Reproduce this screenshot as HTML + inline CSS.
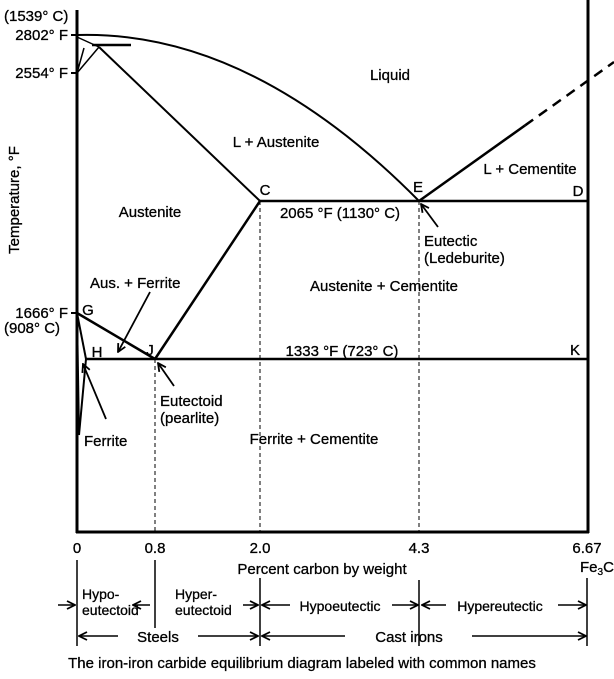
<!DOCTYPE html>
<html><head><meta charset="utf-8"><style>
html,body{margin:0;padding:0;background:#fff}
svg{display:block;font-family:"Liberation Sans",Arial,sans-serif}
</style></head><body>
<svg id="chart" width="614" height="679" viewBox="0 0 614 679">
<defs>
<marker id="ah" markerWidth="10" markerHeight="10" refX="9" refY="5" orient="auto" markerUnits="userSpaceOnUse">
<path d="M1,1 L9,5 L1,9" fill="none" stroke="#000" stroke-width="1.8"/></marker>
</defs>
<g id="marks" stroke="#000" fill="none"></g>
<g id="labels" font-size="15" fill="#000" stroke="#000" stroke-width="0.3"></g>
</svg>
<script>
// Carbon (%) breakpoints and temperature (°F) breakpoints (schematic axes)
const carbonTicks = [0, 0.8, 2.0, 4.3, 6.67];
const carbonTickLabels = ["0", "0.8", "2.0", "4.3", "6.67"];
const tempTicks = [2802, 2554, 1666];
const tempTickLabels = ["2802° F", "2554° F", "1666° F"];
const eutecticTemp = 2065;
const eutectoidTemp = 1333;
const pointC = [2.0, 2065];
const pointE = [4.3, 2065];
const pointJ = [0.8, 1333];
const pointG = [0, 1666];

// axis functions (piecewise, schematic diagram)
const xs = [77, 155, 260, 419, 587];
function X(c){for(let i=0;i<carbonTicks.length-1;i++){if(c<=carbonTicks[i+1]||i===carbonTicks.length-2){const t=(c-carbonTicks[i])/(carbonTicks[i+1]-carbonTicks[i]);return xs[i]+t*(xs[i+1]-xs[i]);}}}
const tBreak=[3000,2802,2554,2065,1666,1333,1000];
const yBreak=[0,35,73,201,313,359,532];
function Y(T){for(let i=0;i<tBreak.length-1;i++){if(T>=tBreak[i+1]||i===tBreak.length-2){const t=(tBreak[i]-T)/(tBreak[i]-tBreak[i+1]);return yBreak[i]+t*(yBreak[i+1]-yBreak[i]);}}}

const NS="http://www.w3.org/2000/svg";
const marks=document.getElementById('marks'), labels=document.getElementById('labels');
function el(tag,attrs,parent){const e=document.createElementNS(NS,tag);for(const k in attrs)e.setAttribute(k,attrs[k]);parent.appendChild(e);return e;}
function line(x1,y1,x2,y2,w,name,extra){const e=el('line',Object.assign({x1,y1,x2,y2,'stroke-width':w},extra||{}),marks);

return e;}
function path(d,w,name){const e=el('path',{d,'stroke-width':w},marks);

return e;}
function text(x,y,s,name,anchor,size){const e=el('text',{x,y,'text-anchor':anchor||'start','font-size':size||15},labels);e.textContent=s;

return e;}

// axes
line(77,10,77,533,3,'y-axis');
line(588,0,588,533,3,'right-axis');
line(76,532,589,532,3,'x-axis');

const xC=X(pointC[0]),yC=Y(pointC[1]),xE=X(pointE[0]),yE=Y(pointE[1]);
const xJ=X(pointJ[0]),yJ=Y(pointJ[1]),yG=Y(pointG[1]);
// liquidus
path(`M77,${Y(2802)} Q250,30 ${xE},${yE}`,2,'liquidus-curve');
// peritectic
line(92,45,131,45,2.5,'peritectic-line');
path(`M99,47 Q170,115 ${xC},${yC}`,2,'austenite-solidus');
line(77,Y(2554),99,47,1.5,'delta-line-1');
line(77,Y(2802)+2,99,47,1.5,'delta-line-2');
line(84,48,77,Y(2554),1.5,'delta-line-3');
// right liquidus (straight, then dashed continuation)
const slope=(62-yE)/(614-xE);
line(xE,yE,525,yE+slope*(525-xE),2.5,'cementite-liquidus');
line(525,yE+slope*(525-xE),614,62,2.5,'cementite-liquidus-dashed',{'stroke-dasharray':'10,7'});
// eutectic
line(xC,Y(eutecticTemp),588,Y(eutecticTemp),2.5,'eutectic-line');
// Acm
line(xC,yC,xJ,yJ,2.5,'acm-line');
// A3
line(77,yG,xJ,yJ,2.5,'a3-line');
// eutectoid
line(85,Y(eutectoidTemp),588,Y(eutectoidTemp),2.5,'eutectoid-line');
// ferrite wedge
line(77,yG,86,yJ,2,'ferrite-line-1');
line(86,yJ,79,435,2,'ferrite-line-2');
line(77,yG,79,435,2,'ferrite-line-3');
// dashed verticals
[[xJ,yJ],[xC,yC],[xE,yE]].forEach((p,i)=>line(p[0],p[1],p[0],531,1,'dashed-guide-'+i,{'stroke-dasharray':'4,3'}));
// y ticks
tempTicks.forEach((t,i)=>line(71,Y(t),77,Y(t),2,'y-tick-'+i));
// annotation arrows
line(150,292,118,352,1.8,'aus-ferrite-arrow',{'marker-end':'url(#ah)'});
line(174,386,158,363,1.8,'eutectoid-arrow',{'marker-end':'url(#ah)'});
line(438,227,421,204,1.8,'eutectic-arrow',{'marker-end':'url(#ah)'});
line(106,419,83,364,1.8,'ferrite-arrow',{'marker-end':'url(#ah)'});

// y labels
text(4,21,'(1539° C)','melting-point-c');
tempTicks.forEach((t,i)=>text(68,Y(t)+5,tempTickLabels[i],'y-tick-label-'+i,'end'));
text(4,333,'(908° C)','a3-temp-c');
const yt=text(0,0,'Temperature, °F','y-axis-title','middle');
yt.setAttribute('transform','translate(19,200) rotate(-90)');

// region labels
text(390,80,'Liquid','liquid-region-label','middle');
text(276,147,'L + Austenite','l-austenite-label','middle');
text(530,174,'L + Cementite','l-cementite-label','middle');
text(150,217,'Austenite','austenite-label','middle');
text(340,218,'2065 °F (1130° C)','eutectic-temp-label','middle');
text(424,246,'Eutectic','eutectic-label');
text(424,263,'(Ledeburite)','ledeburite-label');
text(90,288,'Aus. + Ferrite','aus-ferrite-label');
text(384,291,'Austenite + Cementite','austenite-cementite-label','middle');
text(342,356,'1333 °F (723° C)','eutectoid-temp-label','middle');
text(160,406,'Eutectoid','eutectoid-label');
text(160,423,'(pearlite)','pearlite-label');
text(314,444,'Ferrite + Cementite','ferrite-cementite-label','middle');
text(84,446,'Ferrite','ferrite-label');
text(xC+5,195,'C','point-c','middle');
text(xE-1,192,'E','point-e','middle');
text(578,196,'D','point-d','middle');
text(88,315,'G','point-g','middle');
text(97,357,'H','point-h','middle');
text(150,355,'J','point-j','middle');
text(575,355,'K','point-k','middle');

// x ticks
carbonTicks.forEach((c,i)=>text(X(c),553,carbonTickLabels[i],'x-tick-label-'+i,'middle'));
text(580,572,'Fe','fe3c-label').innerHTML='Fe<tspan font-size="10" dy="3">3</tspan><tspan dy="-3">C</tspan>';
text(322,574,'Percent carbon by weight','x-axis-title','middle');

// classification bracket lines
line(X(0),560,X(0),646,1.5,'bracket-0');
line(X(0.8),560,X(0.8),628,1.5,'bracket-08');
line(X(2.0),578,X(2.0),646,1.5,'bracket-2');
line(X(4.3),580,X(4.3),646,1.5,'bracket-43');
line(X(6.67),578,X(6.67),646,1.5,'bracket-667');
const am={'marker-end':'url(#ah)'};
line(58,605,75,605,1.5,'hypo-arrow',am);
line(150,605,133,605,1.5,'hyper-arrow-l',am);
line(243,605,258,605,1.5,'hyper-arrow-r',am);
line(290,605,262,605,1.5,'hypoeu-arrow-l',am);
line(392,605,418,605,1.5,'hypoeu-arrow-r',am);
line(446,605,422,605,1.5,'hypereu-arrow-l',am);
line(558,605,586,605,1.5,'hypereu-arrow-r',am);
line(118,636,79,636,1.5,'steels-arrow-l',am);
line(198,636,258,636,1.5,'steels-arrow-r',am);
line(345,636,262,636,1.5,'cast-arrow-l',am);
line(472,636,586,636,1.5,'cast-arrow-r',am);
text(82,599,'Hypo-','hypo-label',null,14);
text(82,615,'eutectoid','hypoeutectoid-label',null,14);
text(175,599,'Hyper-','hyper-label',null,14);
text(175,615,'eutectoid','hypereutectoid-label',null,14);
text(340,611,'Hypoeutectic','hypoeutectic-label','middle',14);
text(500,611,'Hypereutectic','hypereutectic-label','middle',14);
text(158,642,'Steels','steels-label','middle');
text(409,642,'Cast irons','cast-irons-label','middle');
text(302,668,'The iron-iron carbide  equilibrium diagram labeled with common names','caption','middle');
</script>
</body></html>
